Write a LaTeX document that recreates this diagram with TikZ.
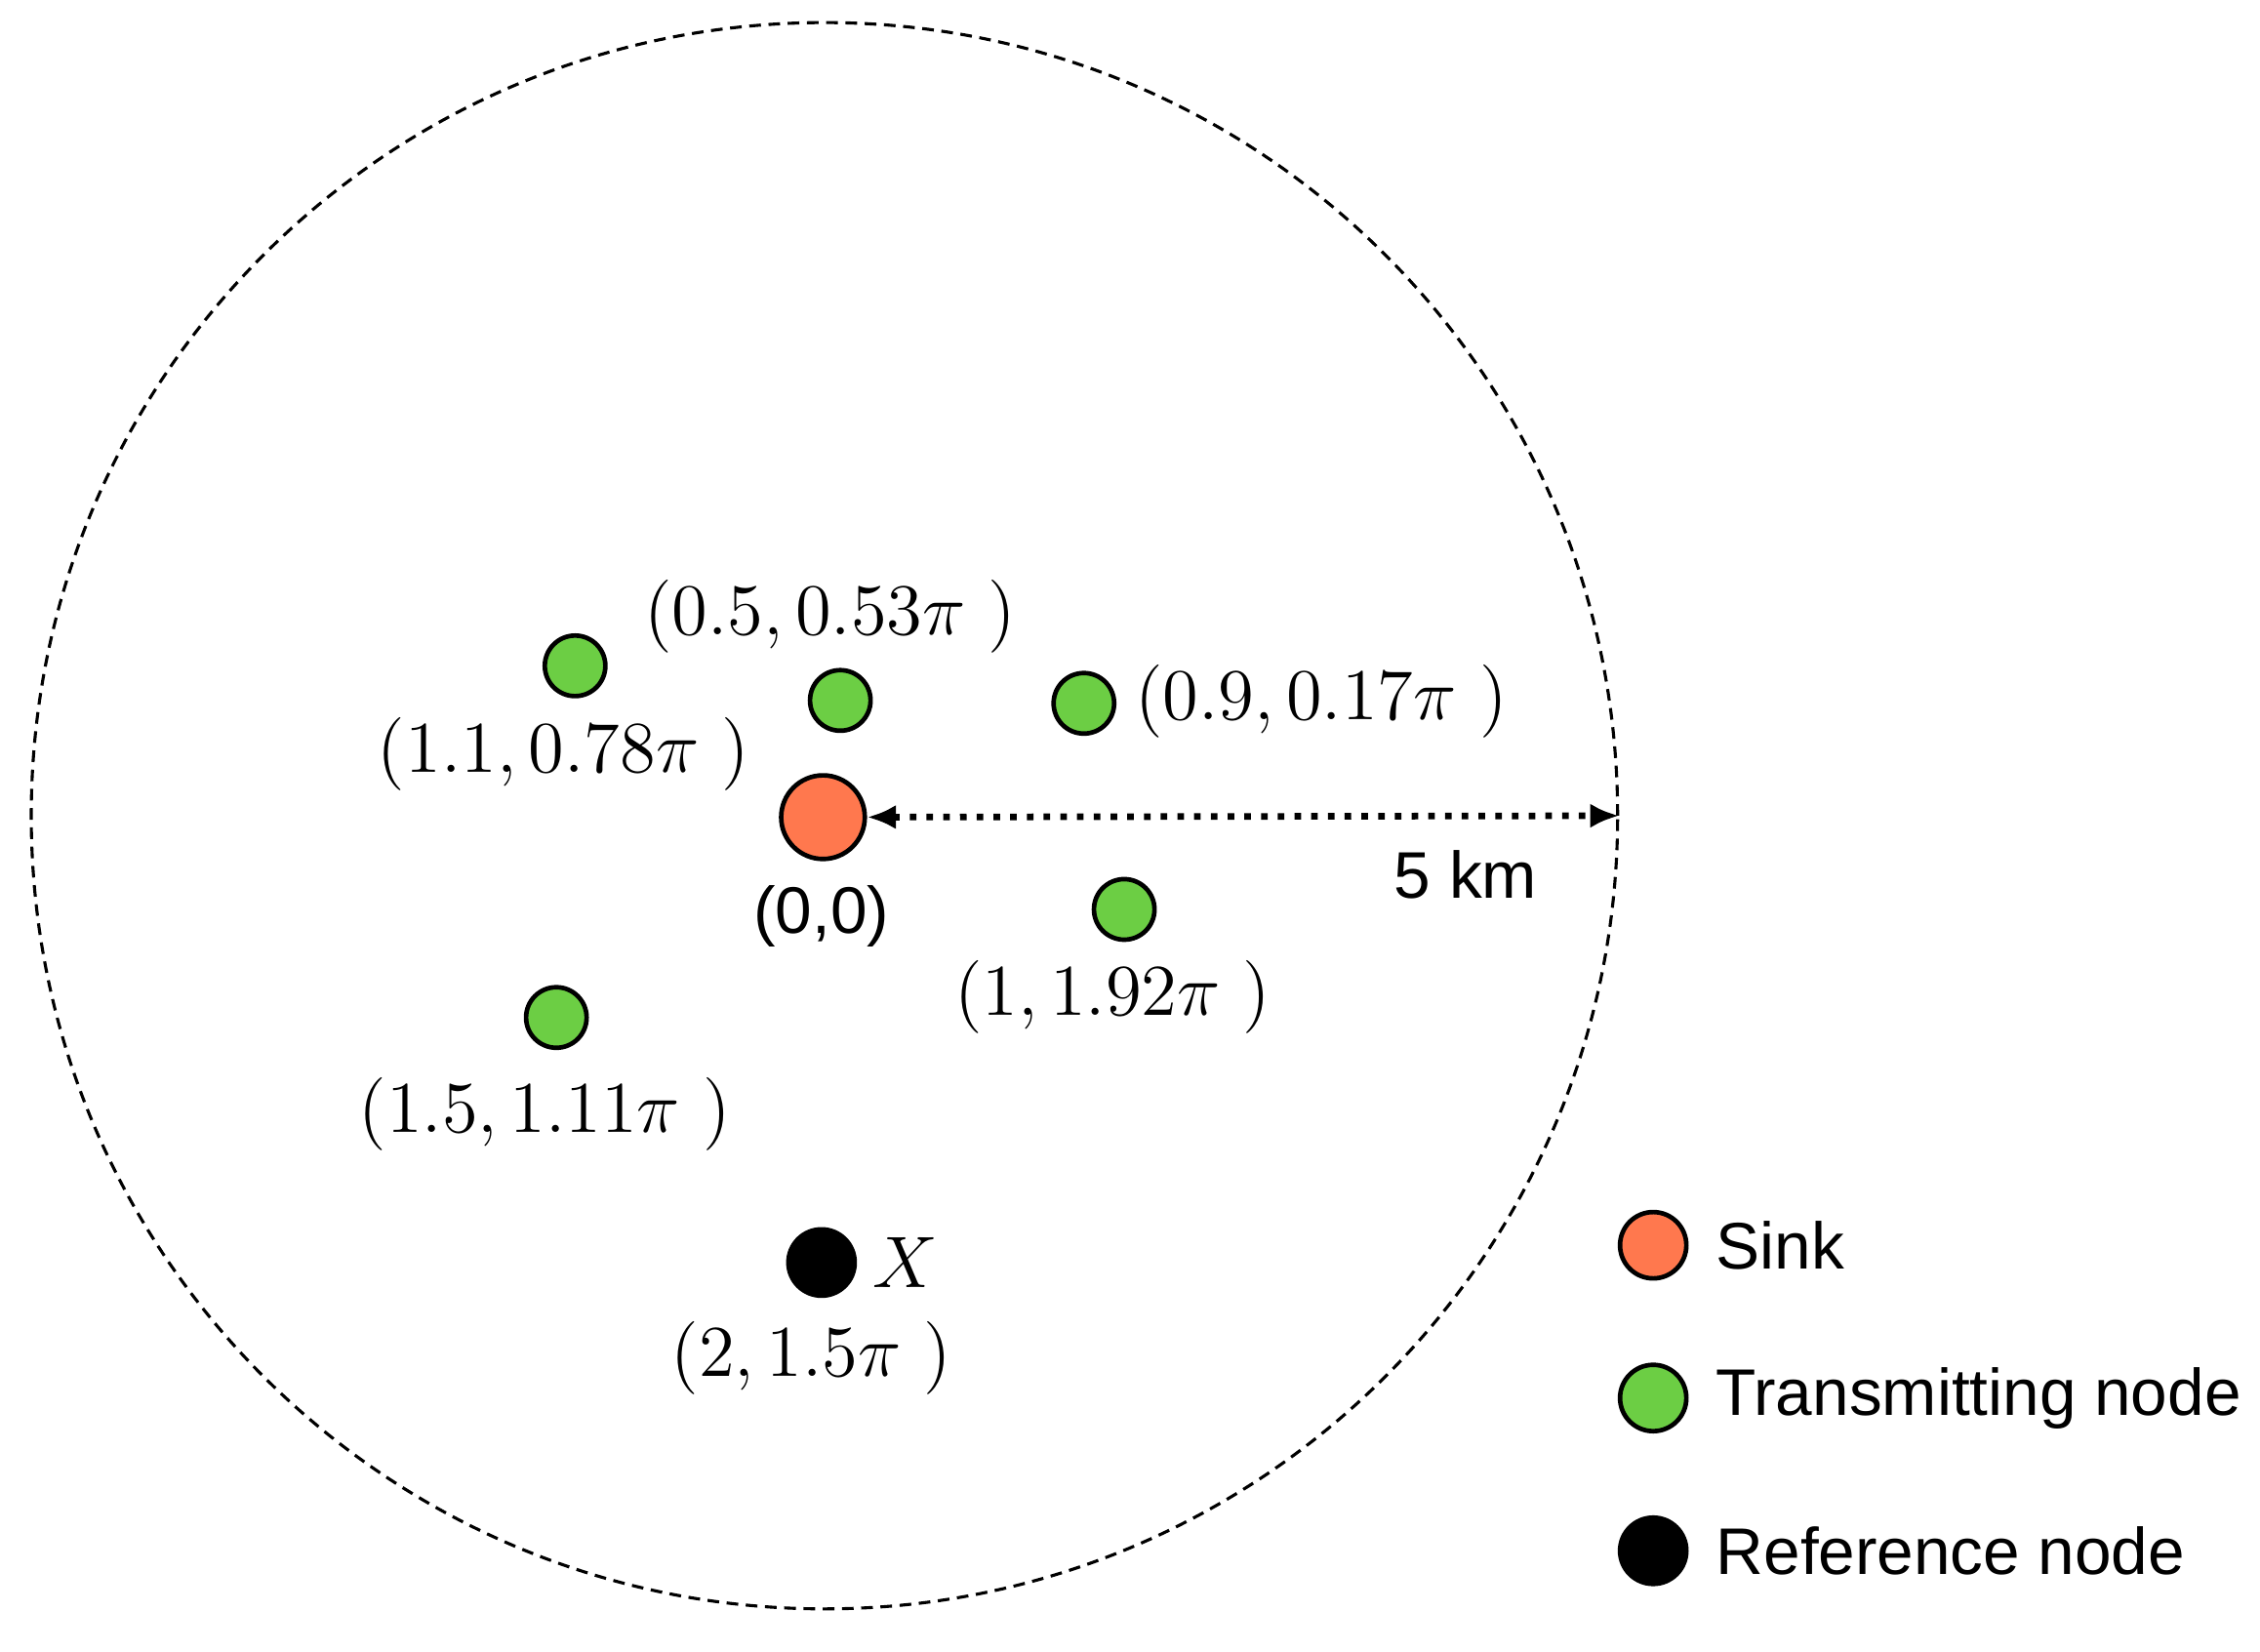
\documentclass[tikz,border=0pt]{standalone}
\usepackage{fontspec}
\setsansfont{Liberation Sans}
\usetikzlibrary{arrows.meta}
\definecolor{sinkc}{RGB}{255,120,78}
\definecolor{txc}{RGB}{108,206,68}
\begin{document}
\begin{tikzpicture}[x=0.01cm,y=0.01cm,
  dot/.style={circle,draw=black,line width=0.9pt,inner sep=0pt},
  sinkdot/.style={dot,fill=sinkc,minimum size=0.58cm},
  txdot/.style={dot,fill=txc,minimum size=0.42cm},
  refdot/.style={dot,fill=black,minimum size=0.46cm},
  legdot/.style={dot,minimum size=0.46cm},
  mlab/.style={font=\fontsize{13.8}{16}\selectfont,inner sep=0pt},
  slab/.style={font=\fontsize{13}{15}\selectfont\sffamily,inner sep=0pt}]
\useasboundingbox (0,0) rectangle (1568,1146);
\node[circle,draw=black,line width=0.6pt,dash pattern=on 2.3pt off 1.5pt,inner sep=0pt,minimum size=11cm] (area) at (572,580) {};
\node[sinkdot] (sink) at (571,579) {};
\node[txdot] (g1) at (399,684) {};
\node[txdot] (g2) at (583,660) {};
\node[txdot] (g3) at (752,658) {};
\node[txdot] (g4) at (780,515) {};
\node[txdot] (g5) at (386,440) {};
\node[refdot] (ref) at (570,270) {};
\draw[line width=1.3pt,dotted,{Latex[length=0.2cm,width=0.17cm]}-{Latex[length=0.2cm,width=0.17cm]}] (sink.east) -- (area.east);
\node[slab] (km) at (1017,539) {5 km};
\node[slab] (l0) at (570,510) {(0,0)};
\node[mlab] (l2) at (576,718) {$(0.5, 0.53\pi\ )$};
\node[mlab] (l1) at (391,623) {$(1.1, 0.78\pi\ )$};
\node[mlab,anchor=west] (l3) at (787,659) {$(0.9, 0.17\pi\ )$};
\node[mlab] (l4) at (772,454) {$(1, 1.92\pi\ )$};
\node[mlab] (l5) at (378,373) {$(1.5, 1.11\pi\ )$};
\node[mlab] (lx) at (628,270) {$X$};
\node[mlab] (lr) at (563,204) {$(2, 1.5\pi\ )$};
\node[legdot,fill=sinkc] (k1) at (1147,282) {};
\node[legdot,fill=txc] (k2) at (1147,176) {};
\node[legdot,fill=black] (k3) at (1147,70) {};
\node[slab,anchor=west] (t1) at (1190,282) {Sink};
\node[slab,anchor=west] (t2) at (1190,176) {Transmitting node};
\node[slab,anchor=west] (t3) at (1190,70) {Reference node};
\end{tikzpicture}
\end{document}
